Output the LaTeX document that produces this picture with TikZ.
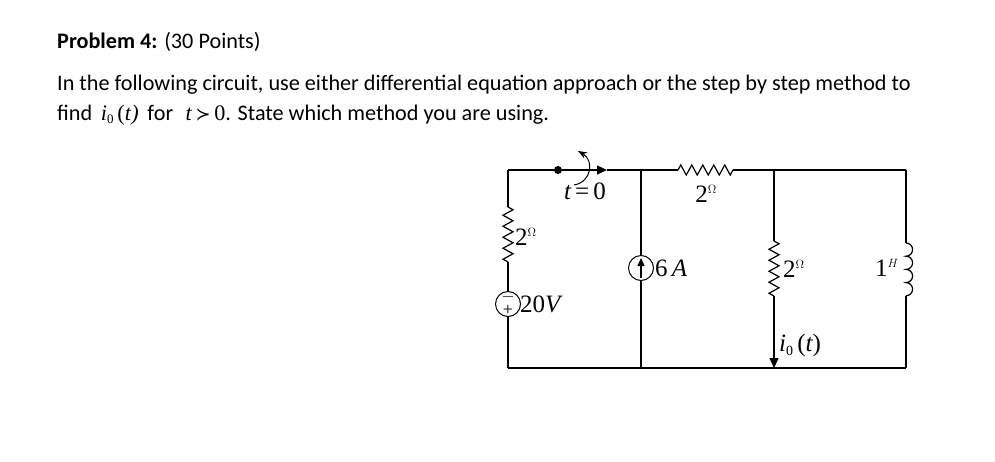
\documentclass[tikz,border=0pt]{standalone}
\usepackage{fontspec}
\setmainfont{Carlito}
\newfontfamily\tms{Liberation Serif}
\newfontfamily\djv{DejaVu Sans}
\usetikzlibrary{arrows.meta,decorations.pathmorphing}
\begin{document}
\begin{tikzpicture}[x=1pt,y=-1pt,
  wire/.style={line width=1.2pt},
  res/.style={line width=1.2pt,decorate,decoration={zigzag,segment length=11pt,amplitude=5pt}},
  lbl/.style={font=\tms\fontsize{25}{25}\selectfont,inner sep=1pt},
  txt/.style={font=\fontsize{22.2}{24}\selectfont,anchor=base west,inner sep=0pt}]
\useasboundingbox (0,0) rectangle (995,461);
\node[txt] (p) at (57,48) {\textbf{Problem 4:} (30 Points)};
\node[txt] (l1) at (57,90) {In the following circuit, use either differential equation approach or the step by step method to};
\node[txt] (l2) at (57,120) {find \,{\tms\itshape i}{\tms\fontsize{13}{13}\selectfont\raisebox{-3pt}{0}}\,{\tms(\itshape t\/)} \,for\, \,{\tms\itshape t}\,{\djv\fontsize{18}{18}\selectfont ≻}\,{\tms 0}. State which method you are using.};
% coordinates
\coordinate (TL) at (508,170); \coordinate (BL) at (508,368);
\coordinate (TM) at (641,170); \coordinate (BM) at (641,368);
\coordinate (TR) at (774,170); \coordinate (BR) at (774,368);
\coordinate (TX) at (906,170); \coordinate (BX) at (906,368);
\coordinate (sw) at (558,170);
\node[circle,fill,inner sep=0pt,minimum size=8pt] (swd) at (sw) {};
\coordinate (swe) at (607,170);
\draw[wire] (TL) -- (swd);
\draw[wire,-{Triangle[length=10pt,width=9pt]}] (swd) -- (swe);
\draw[wire] (swe) -- (TM);
\draw[line width=1pt,-{Stealth[length=9pt]}] (574,185) .. controls (592,182) and (594,160) .. (578,151);
\node[lbl] (t0) at (585,191) {\itshape t\upshape\,=\,0};
% left branch
\coordinate (r1a) at (508,207); \coordinate (r1b) at (508,262);
\draw[wire] (TL) -- (r1a);
\draw[res] (r1a) -- (r1b);
\node[lbl,anchor=west] (r1l) at (514,237) {2$^{\scriptscriptstyle\Omega}$};
\node[circle,draw,line width=1pt,minimum size=25pt,inner sep=0pt] (vs) at (508,304) {};
\node[font=\tms\fontsize{16}{16}\selectfont,inner sep=0pt] (vm) at (508,297) {$-$};
\node[font=\tms\fontsize{18}{18}\selectfont,inner sep=0pt] (vp) at (508,310) {+};
\draw[wire] (r1b) -- (vs.north);
\draw[wire] (vs.south) -- (BL);
\node[lbl,anchor=west] (vl) at (519,304) {20\itshape V};
% current source
\node[circle,draw,line width=1pt,minimum size=25pt,inner sep=0pt] (cs) at (641,268) {};
\draw[wire] (TM) -- (cs.north);
\draw[wire] (cs.south) -- (BM);
\draw[line width=1.2pt,-{Triangle[length=8pt,width=7pt]}] (641,278) -- (641,258);
\node[lbl,anchor=west] (cl) at (654,268) {6\,\itshape A};
% top resistor
\coordinate (r2a) at (678,170); \coordinate (r2b) at (733,170);
\draw[wire] (TM) -- (r2a);
\draw[res] (r2a) -- (r2b);
\draw[wire] (r2b) -- (TX);
\node[lbl] (r2l) at (706,194) {2$^{\scriptscriptstyle\Omega}$};
% middle resistor
\coordinate (r3a) at (774,241); \coordinate (r3b) at (774,296);
\draw[wire] (TR) -- (r3a);
\draw[res] (r3a) -- (r3b);
\node[lbl,anchor=west] (r3l) at (782,269) {2$^{\scriptscriptstyle\Omega}$};
\draw[wire,-{Triangle[length=10pt,width=9pt]}] (r3b) -- (BR);
\node[lbl,anchor=west] (iol) at (778,345) {\itshape i\upshape\raisebox{-4pt}{\fontsize{14}{14}\selectfont 0}\,(\itshape t\upshape)};
% inductor
\coordinate (la) at (906,243); \coordinate (lb) at (906,296);
\draw[wire] (TX) -- (la);
\draw[wire] (la) \foreach \k in {0,1,2,3} { arc[start angle=90,end angle=-90,radius=6.6pt] };
\draw[wire] (906,295.8) -- (BX);
\node[lbl,anchor=east] (ll) at (900,268) {1$^{\scriptscriptstyle H}$};
\draw[wire] (BL) -- (BX);
\end{tikzpicture}
\end{document}
